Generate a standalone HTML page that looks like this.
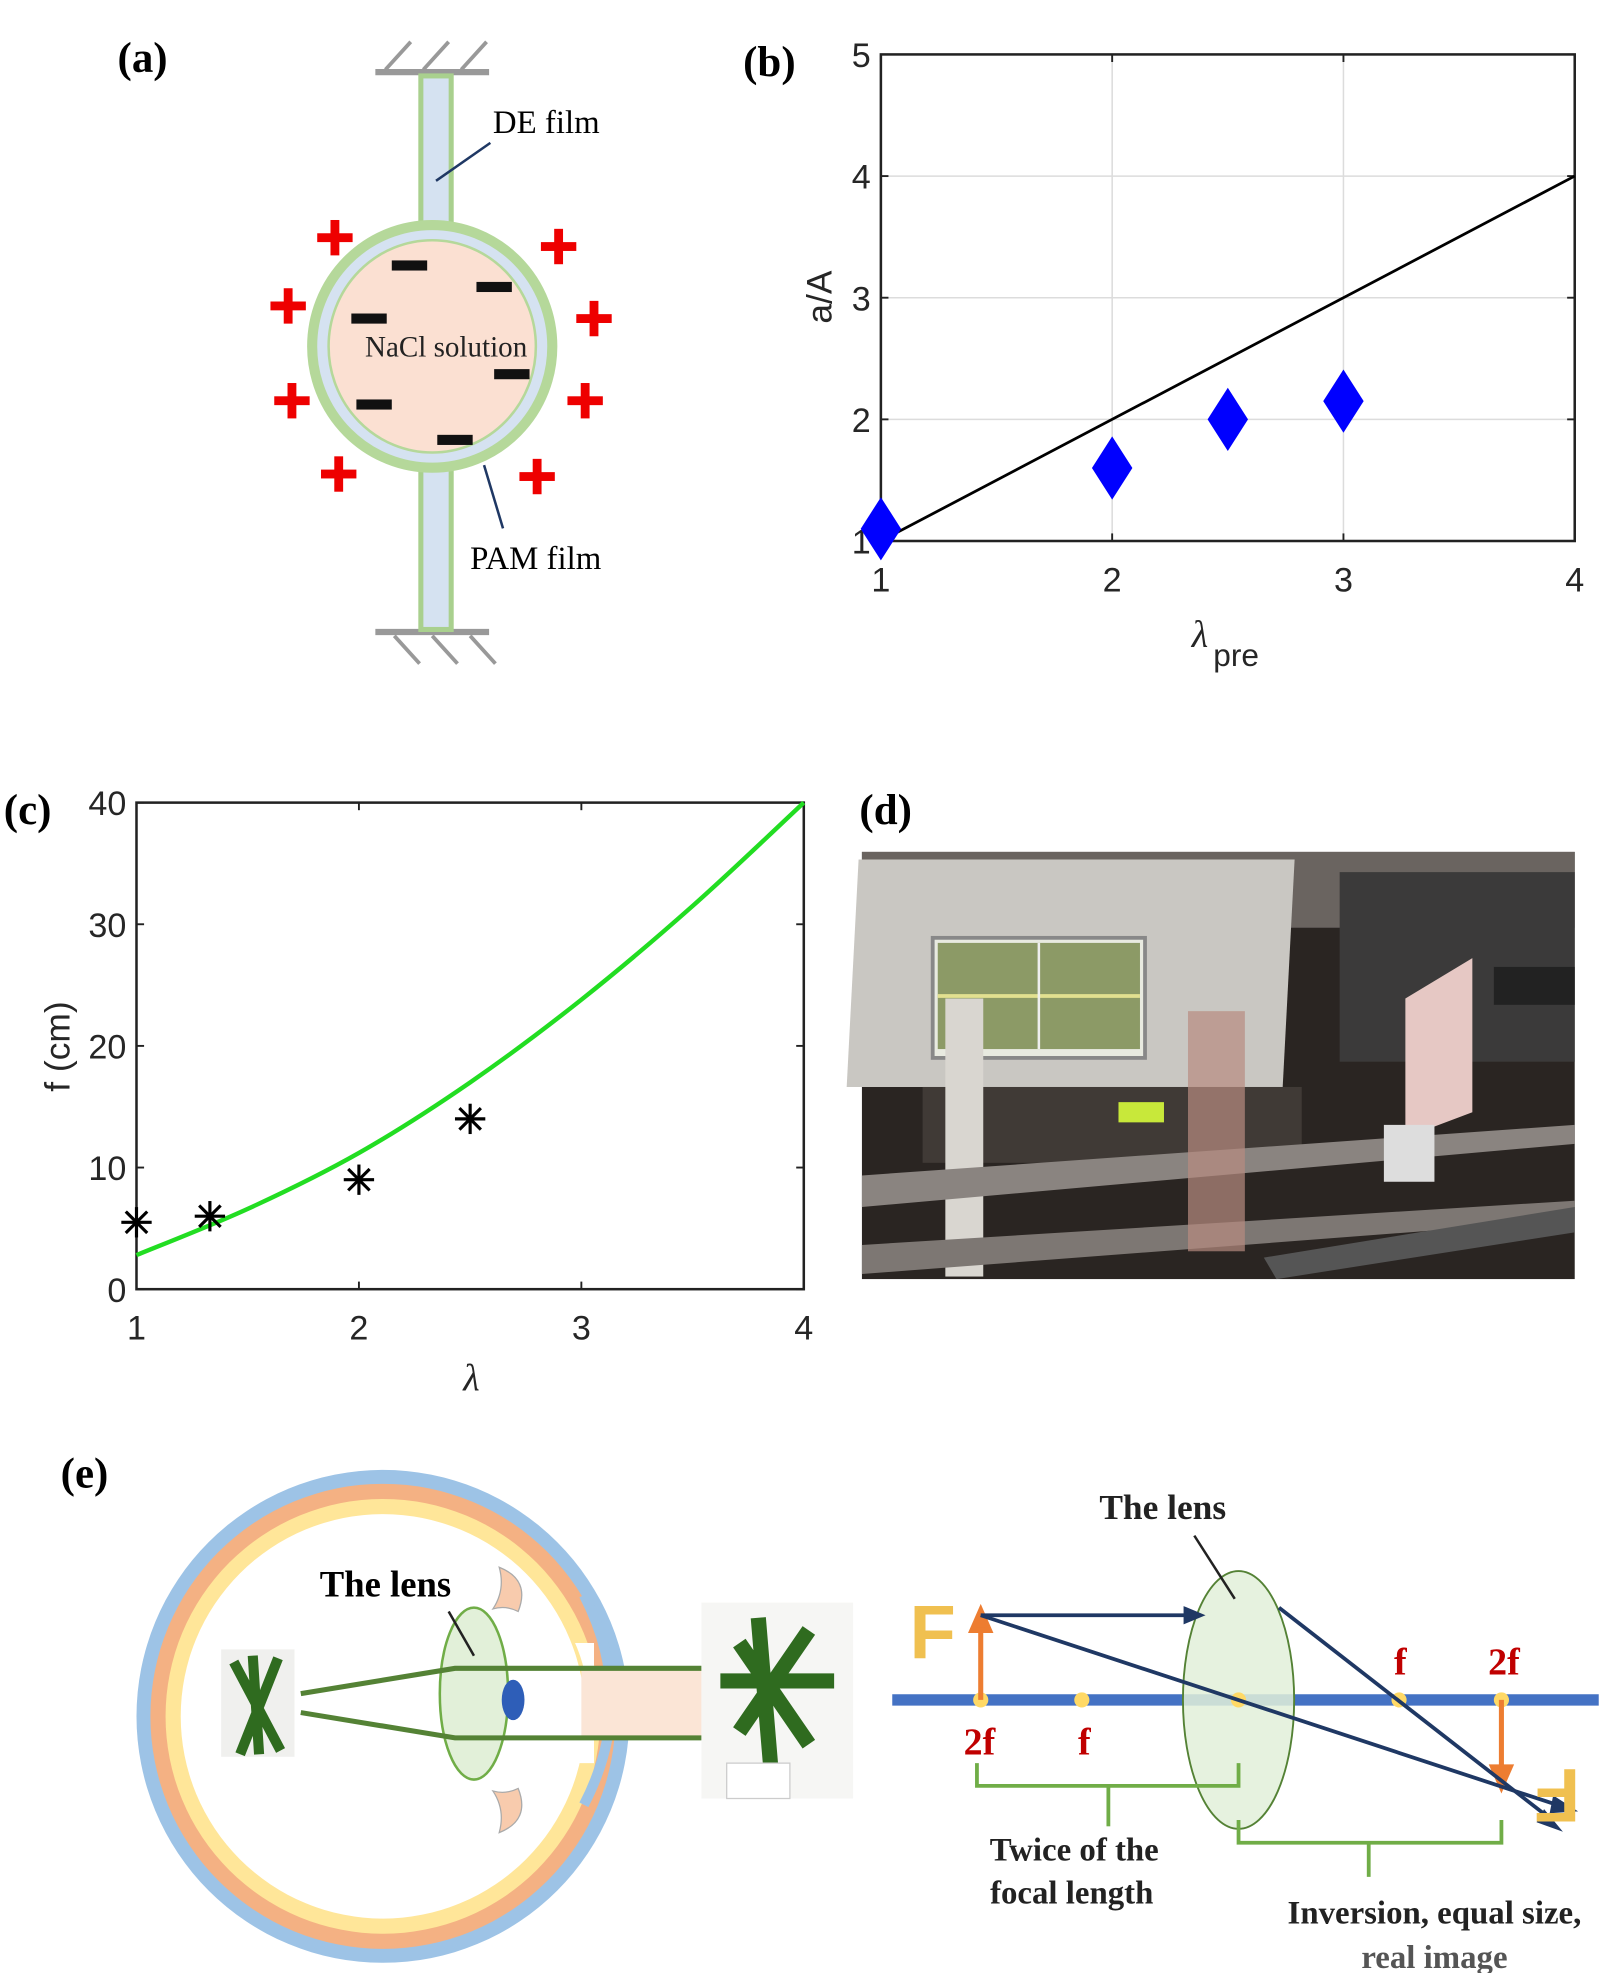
<!DOCTYPE html>
<html><head><meta charset="utf-8"><style>
html,body{margin:0;padding:0;background:#fff;width:1600px;height:1973px;overflow:hidden}
svg{display:block}
.s{font-family:"Liberation Serif",serif}
.a{font-family:"Liberation Sans",sans-serif}
</style></head><body>
<svg id="fig" width="1600" height="1973" viewBox="0 0 1266 1561" xmlns="http://www.w3.org/2000/svg">
<g class="s" font-weight="bold" font-size="34">
<text x="93" y="57">(a)</text>
<text x="588" y="60">(b)</text>
<text x="3" y="652">(c)</text>
<text x="680" y="652">(d)</text>
<text x="48" y="1177">(e)</text>
</g>

<g id="pa">
<g stroke="#999" stroke-width="3">
<line x1="297" y1="57" x2="387" y2="57" stroke-width="5"/>
<line x1="305" y1="55" x2="325" y2="33"/><line x1="335" y1="55" x2="355" y2="33"/><line x1="365" y1="55" x2="385" y2="33"/>
</g>
<g stroke="#999" stroke-width="3">
<line x1="297" y1="500" x2="387" y2="500" stroke-width="5"/>
<line x1="312" y1="503" x2="332" y2="525"/><line x1="342" y1="503" x2="362" y2="525"/><line x1="372" y1="503" x2="392" y2="525"/>
</g>
<rect x="333" y="60" width="24" height="125" fill="#d5e2f1" stroke="#a9d08e" stroke-width="4"/>
<rect x="333" y="365" width="24" height="133" fill="#d5e2f1" stroke="#a9d08e" stroke-width="4"/>
<ellipse cx="342" cy="274" rx="95" ry="96" fill="#d5e2f1" stroke="#b5d89a" stroke-width="8"/>
<ellipse cx="342" cy="274" rx="82" ry="84" fill="#fbe0d2" stroke="#b5d89a" stroke-width="2"/>
<text x="353" y="282" text-anchor="middle" class="s" font-size="23" fill="#222">NaCl solution</text>
<line x1="345" y1="143" x2="388" y2="113" stroke="#1f3864" stroke-width="2"/>
<text x="390" y="105" class="s" font-size="26">DE film</text>
<line x1="383" y1="368" x2="398" y2="418" stroke="#1f3864" stroke-width="2"/>
<text x="372" y="450" class="s" font-size="26">PAM film</text>
<g id="plus" fill="#e00"></g>
<g id="minus" fill="#111"></g>
</g>

<g id="pb"></g>
<g id="pc"></g>

<g>
<rect x="682" y="674" width="564" height="338" fill="#2a2522"/>
<rect x="682" y="674" width="564" height="60" fill="#6a6460"/>
<rect x="715" y="680" width="345" height="180" fill="#c9c7c2" transform="skewX(-3)"/>
<rect x="738" y="742" width="168" height="95" fill="#e8eae0" stroke="#888" stroke-width="3"/>
<rect x="742" y="746" width="160" height="84" fill="#8c9a66"/>
<line x1="742" y1="788" x2="902" y2="788" stroke="#e2e090" stroke-width="3"/>
<line x1="822" y1="746" x2="822" y2="830" stroke="#eee" stroke-width="2"/>
<rect x="1060" y="690" width="186" height="150" fill="#3b3a3a"/>
<rect x="1182" y="765" width="64" height="30" fill="#222"/>
<rect x="730" y="860" width="300" height="60" fill="#403a36"/>
<rect x="885" y="872" width="36" height="16" fill="#c8e83a"/>
<polygon points="1112,790 1165,758 1165,880 1112,900" fill="#e6c8c4"/>
<rect x="748" y="790" width="30" height="220" fill="#d9d6d0"/>
<polygon points="682,930 1246,890 1246,905 682,955" fill="#8a8480"/>
<polygon points="682,985 1246,950 1246,965 682,1008" fill="#7d7773"/>
<polygon points="1000,995 1246,955 1246,975 1010,1012" fill="#555"/>
<rect x="940" y="800" width="45" height="190" fill="#b88c80" opacity="0.7"/>
<rect x="1095" y="890" width="40" height="45" fill="#ddd"/>
</g>

<g>
<ellipse cx="303" cy="1358" rx="195" ry="195" fill="#9dc3e6"/>
<ellipse cx="303" cy="1358" rx="184" ry="184" fill="#f4b183"/>
<ellipse cx="303" cy="1358" rx="172" ry="172" fill="#ffe699"/>
<ellipse cx="303" cy="1358" rx="160" ry="160" fill="#fff"/>
<path d="M455,1300 Q475,1345 455,1395 L470,1395 L470,1300Z" fill="#fff"/>
<path d="M462,1262 Q505,1345 462,1428" fill="none" stroke="#9dc3e6" stroke-width="8"/>
<rect x="460" y="1320" width="95" height="55" fill="#fbe5d6"/>
<path d="M395,1240 q25,10 15,35 q-10,-5 -20,-2 q10,-15 5,-33z" fill="#f8cbad" stroke="#aaa"/>
<path d="M395,1450 q25,-10 15,-35 q-10,5 -20,2 q10,15 5,33z" fill="#f8cbad" stroke="#aaa"/>
<ellipse cx="375" cy="1340" rx="27" ry="68" fill="#e2f0d9" stroke="#70ad47" stroke-width="2"/>
<ellipse cx="406" cy="1345" rx="9" ry="16" fill="#2e5eb8"/>
<polyline points="238,1340 360,1320 555,1320" fill="none" stroke="#548235" stroke-width="4"/>
<polyline points="238,1355 360,1375 555,1375" fill="none" stroke="#548235" stroke-width="4"/>
<rect x="175" y="1305" width="58" height="85" fill="#f0f0ee"/>
<path d="M185,1315 L222,1385 M220,1312 L190,1388 M200,1310 L205,1388" stroke="#2f6b1f" stroke-width="8"/>
<rect x="555" y="1268" width="120" height="155" fill="#f6f6f4"/>
<path d="M600,1280 L610,1400 M585,1300 L640,1380 M640,1290 L585,1370 M570,1330 L660,1330" stroke="#2f6b1f" stroke-width="12"/>
<rect x="575" y="1395" width="50" height="28" fill="#fff" stroke="#ccc"/>
<text x="305" y="1263" text-anchor="middle" class="s" font-weight="bold" font-size="29">The lens</text>
<line x1="355" y1="1275" x2="375" y2="1310" stroke="#222" stroke-width="2"/>
</g>
<g>
<line x1="706" y1="1345" x2="1265" y2="1345" stroke="#4472c4" stroke-width="9"/>
<ellipse cx="980" cy="1345" rx="44" ry="102" fill="#e2f0d9" fill-opacity="0.85" stroke="#548235" stroke-width="1.5"/>
<g fill="#ffd966"><circle cx="776" cy="1345" r="6"/><circle cx="856" cy="1345" r="6"/><circle cx="980" cy="1345" r="6"/><circle cx="1107" cy="1345" r="6"/><circle cx="1188" cy="1345" r="6"/></g>
<g stroke="#ed7d31" stroke-width="4" fill="#ed7d31">
<line x1="776" y1="1345" x2="776" y2="1288"/><polygon points="769,1290 783,1290 776,1274"/>
<line x1="1188" y1="1345" x2="1188" y2="1400"/><polygon points="1181,1398 1195,1398 1188,1414"/>
</g>
<g stroke="#1f3864" stroke-width="3" fill="#1f3864">
<line x1="776" y1="1278" x2="940" y2="1278"/><polygon points="938,1273 950,1278 938,1283"/>
<line x1="776" y1="1278" x2="1238" y2="1430"/><polygon points="1230,1423 1244,1432 1228,1433"/>
<line x1="1012" y1="1272" x2="1228" y2="1440"/><polygon points="1222,1434 1232,1446 1218,1441"/>
</g>
<text x="738" y="1312" text-anchor="middle" font-family="Liberation Sans,sans-serif" font-weight="bold" font-size="60" fill="#f0c050">F</text>
<text x="1232" y="1380" text-anchor="middle" font-family="Liberation Sans,sans-serif" font-weight="bold" font-size="60" fill="#f0c050" transform="rotate(180 1232 1390)">F</text>
<g class="s" font-weight="bold" font-size="30" fill="#c00000" text-anchor="middle">
<text x="775" y="1388">2f</text><text x="858" y="1388">f</text><text x="1108" y="1325">f</text><text x="1190" y="1325">2f</text>
</g>
<g stroke="#70ad47" stroke-width="3" fill="none">
<polyline points="773,1395 773,1413 980,1413 980,1395"/><line x1="877" y1="1413" x2="877" y2="1445"/>
<polyline points="980,1440 980,1458 1188,1458 1188,1440"/><line x1="1083" y1="1458" x2="1083" y2="1485"/>
</g>
<g class="s" font-weight="bold" font-size="26" text-anchor="middle" fill="#222">
<text x="850" y="1472">Twice of the</text><text x="848" y="1506">focal length</text>
<text x="1135" y="1522">Inversion, equal size,</text><text x="1135" y="1557" fill="#555">real image</text>
<text x="920" y="1202" font-size="28">The lens</text>
</g>
<line x1="945" y1="1215" x2="977" y2="1265" stroke="#222" stroke-width="2"/>
</g>
</svg>
<script>
var plusPts=[[265,188],[442,195],[228,242],[470,252],[231,317],[463,317],[268,375],[425,377]];
var minusPts=[[324,210],[391,227],[292,252],[405,296],[296,320],[360,348]];
var bXTicks=[1,2,3,4];
var bYTicks=[1,2,3,4,5];
var bMeasX=[1,2,2.5,3];
var bMeasY=[1.1,1.6,2.0,2.15];
var bLineX=[1,4];
var bLineY=[1,4];
var cXTicks=[1,2,3,4];
var cYTicks=[0,10,20,30,40];
var cMeasX=[1,1.33,2,2.5];
var cMeasY=[5.5,6,9,14];
var cCurveX=[1,1.5,2,2.5,3,3.5,4];
var cCurveY=[2.8,6.6,11.2,17.0,23.8,31.5,40];

var NS='http://www.w3.org/2000/svg';
function mk(tag,attrs,parent){var e=document.createElementNS(NS,tag);for(var k in attrs)e.setAttribute(k,attrs[k]);parent.appendChild(e);return e;}
var gp=document.getElementById('plus'),gm=document.getElementById('minus');
plusPts.forEach(function(p){var g=mk('g',{},gp);


mk('rect',{x:p[0]-14,y:p[1]-3.5,width:28,height:7},g);mk('rect',{x:p[0]-3.5,y:p[1]-14,width:7,height:28},g);});
minusPts.forEach(function(p){var r=mk('rect',{x:p[0]-14,y:p[1]-4,width:28,height:8},gm);

});

function axes(g,box,xd,yd,xt,yt,grid){
  var sx=function(v){return box.x0+(v-xd[0])/(xd[1]-xd[0])*(box.x1-box.x0);};
  var sy=function(v){return box.y1-(v-yd[0])/(yd[1]-yd[0])*(box.y1-box.y0);};
  if(grid){
    xt.forEach(function(v){var x=sx(v);if(v>xd[0]&&v<xd[1]){var l=mk('line',{x1:x,x2:x,y1:box.y0,y2:box.y1,stroke:'#dcdcdc','stroke-width':1.2},g);
      
      }});
    yt.forEach(function(v){var y=sy(v);if(v>yd[0]&&v<yd[1]){var l=mk('line',{x1:box.x0,x2:box.x1,y1:y,y2:y,stroke:'#dcdcdc','stroke-width':1.2},g);
      
      }});
  }
  var r=mk('rect',{x:box.x0,y:box.y0,width:box.x1-box.x0,height:box.y1-box.y0,fill:'none',stroke:'#222','stroke-width':2},g);
  
  
  xt.forEach(function(v){var x=sx(v);
    mk('line',{x1:x,x2:x,y1:box.y1,y2:box.y1-6,stroke:'#222','stroke-width':1.5},g);
    mk('line',{x1:x,x2:x,y1:box.y0,y2:box.y0+6,stroke:'#222','stroke-width':1.5},g);
    var t=mk('text',{x:x,y:box.y1+40,'text-anchor':'middle','font-size':27,fill:'#262626','class':'a'},g);t.textContent=v;
    
    });
  yt.forEach(function(v){var y=sy(v);
    mk('line',{x1:box.x0,x2:box.x0+6,y1:y,y2:y,stroke:'#222','stroke-width':1.5},g);
    mk('line',{x1:box.x1,x2:box.x1-6,y1:y,y2:y,stroke:'#222','stroke-width':1.5},g);
    var t=mk('text',{x:box.x0-8,y:y+10,'text-anchor':'end','font-size':27,fill:'#262626','class':'a'},g);t.textContent=v;
    
    });
  return {sx:sx,sy:sy};
}

var gb=document.getElementById('pb');
var B=axes(gb,{x0:697,x1:1246,y0:43,y1:428},[1,4],[1,5],bXTicks,bYTicks,true);
var lb=mk('line',{x1:B.sx(bLineX[0]),y1:B.sy(bLineY[0]),x2:B.sx(bLineX[1]),y2:B.sy(bLineY[1]),stroke:'#000','stroke-width':2.2},gb);


bMeasX.forEach(function(v,i){var x=B.sx(v),y=B.sy(bMeasY[i]);
  var dm=mk('polygon',{points:(x)+','+(y-25)+' '+(x+16)+','+y+' '+x+','+(y+25)+' '+(x-16)+','+y,fill:'#0000ff'},gb);
  
  });
var yb=mk('text',{x:0,y:0,'font-size':28,'class':'a','text-anchor':'middle',transform:'translate(658,235) rotate(-90)',fill:'#262626'},gb);yb.textContent='a/A';


var xb=mk('text',{x:943,y:512,'font-size':30,'class':'s','font-style':'italic',fill:'#262626'},gb);xb.textContent='λ';


var xbs=mk('text',{x:960,y:527,'font-size':25,'class':'a',fill:'#262626'},gb);xbs.textContent='pre';



var gc=document.getElementById('pc');
var C=axes(gc,{x0:108,x1:636,y0:635,y1:1020},[1,4],[0,40],cXTicks,cYTicks,false);
var pts=cCurveX.map(function(v,i){return [C.sx(v),C.sy(cCurveY[i])];});
var pd='M'+pts[0][0]+','+pts[0][1];
for(var i=0;i<pts.length-1;i++){var p0=pts[Math.max(0,i-1)],p1=pts[i],p2=pts[i+1],p3=pts[Math.min(pts.length-1,i+2)];
  pd+=' C'+(p1[0]+(p2[0]-p0[0])/6)+','+(p1[1]+(p2[1]-p0[1])/6)+' '+(p2[0]-(p3[0]-p1[0])/6)+','+(p2[1]-(p3[1]-p1[1])/6)+' '+p2[0]+','+p2[1];}
var cv=mk('path',{d:pd,fill:'none',stroke:'#22dd22','stroke-width':3.5},gc);


cMeasX.forEach(function(v,i){var x=C.sx(v),y=C.sy(cMeasY[i]);var g=mk('g',{stroke:'#000','stroke-width':2.5},gc);
  
  
  for(var a=0;a<4;a++){var ang=a*Math.PI/4+Math.PI/2;mk('line',{x1:x-12*Math.cos(ang),y1:y-12*Math.sin(ang),x2:x+12*Math.cos(ang),y2:y+12*Math.sin(ang)},g);}});
var yc=mk('text',{x:0,y:0,'font-size':28,'class':'a','text-anchor':'middle',transform:'translate(55,828) rotate(-90)',fill:'#262626'},gc);yc.textContent='f (cm)';


var xc=mk('text',{x:373,y:1100,'font-size':30,'class':'s','font-style':'italic','text-anchor':'middle',fill:'#262626'},gc);xc.textContent='λ';


</script>
</body></html>
